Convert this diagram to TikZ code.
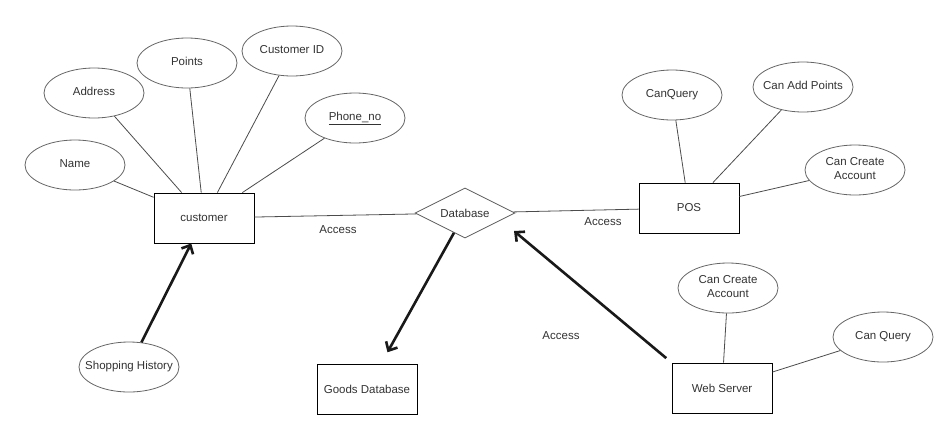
\documentclass[tikz,border=0pt]{standalone}
\usepackage{fontspec}
\setmainfont{Liberation Sans}
\usetikzlibrary{shapes.geometric,arrows.meta}
\tikzset{>={Straight Barb[length=7pt,width=13pt]}}
\tikzset{
  attr/.style={ellipse,draw=black!60,thick,minimum width=100pt,minimum height=50pt,inner sep=0pt,font=\fontsize{11.5}{13.5}\selectfont,text=black!80},
  ent/.style={rectangle,draw=black,thick,minimum width=100pt,minimum height=50pt,inner sep=0pt,align=center,font=\fontsize{11.5}{12.5}\selectfont,text=black!80},
  rel/.style={diamond,draw=black!65,thick,shape aspect=2,minimum width=100pt,minimum height=50pt,inner sep=0pt,font=\fontsize{11.5}{12.5}\selectfont,text=black!80},
  link/.style={draw=black!70,thick},
  bigarrow/.style={->,line width=2.6pt,black!90},
  lbl/.style={font=\fontsize{11.5}{12.5}\selectfont,text=black!80}
}
\newcommand*{\ul}[1]{\underline{#1}}
\newcommand*{\et}[1]{\makebox[0pt]{\begin{tabular}{@{}c@{}}#1\end{tabular}}}

\begin{document}
\begin{tikzpicture}[x=1pt,y=-1pt]
\useasboundingbox[fill=white] (0,0) rectangle (950,440);
% customer side
\node[ent] (cust) at (204,218) {customer};
\node[attr] (name) at (75,165) {\et{Name}};
\node[attr] (addr) at (94,93) {\et{Address}};
\node[attr] (pts) at (187,63) {\et{Points}};
\node[attr] (cid) at (292,51) {\et{Customer ID}};
\node[attr] (phone) at (355,118) {\et{\ul{Phone\_no}}};
\node[attr] (hist) at (129,367) {\et{Shopping History}};
\foreach \a in {name,addr,pts,cid,phone}
  \draw[link] (\a) -- (cust);
\draw[bigarrow] (hist) -- (cust);
% database
\node[rel] (db) at (465,213) {Database};
\node[ent] (goods) at (367,389) {Goods Database};
\draw[link] (cust) -- (db);
\node[lbl] at (338,230) {Access};
\draw[bigarrow,shorten >=13pt] (db) -- (goods);
% POS side
\node[ent] (pos) at (689,208) {POS};
\node[attr] (pq) at (672,95) {\et{CanQuery}};
\node[attr] (padd) at (803,87) {\et{Can Add Points}};
\node[attr] (pacc) at (855,170) {\et{Can Create\\Account}};
\foreach \a in {pq,padd,pacc}
  \draw[link] (\a) -- (pos);
\draw[link] (db) -- (pos);
\node[lbl] at (603,222) {Access};
% web server side
\node[ent] (web) at (722,388) {Web Server};
\node[attr] (wacc) at (728,288) {\et{Can Create\\Account}};
\node[attr] (wq) at (883,337) {\et{Can Query}};
\foreach \a in {wacc,wq}
  \draw[link] (\a) -- (web);
\coordinate (dbin) at (514,231);
\draw[bigarrow,shorten <=7pt] (web.north west) -- (dbin);
\node[lbl] at (561,336) {Access};
\end{tikzpicture}
\end{document}
